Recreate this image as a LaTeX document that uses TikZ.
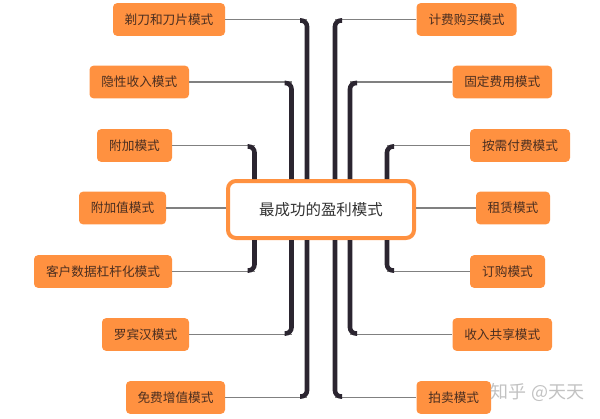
\documentclass[tikz,border=0pt]{standalone}
\usepackage{fontspec}
\setmainfont{Noto Sans CJK SC}
\usepackage{xcolor}
\usetikzlibrary{calc}
\definecolor{leaforange}{HTML}{FF9140}
\definecolor{trunkdark}{HTML}{2B2530}
\definecolor{inkdark}{HTML}{4A2E20}
\tikzset{
    leaf/.style={fill=leaforange, rounded corners=3pt, inner sep=0pt, minimum height=24.5pt, font=\fontsize{9.5pt}{11pt}\selectfont, text=inkdark},
    rootbox/.style={draw=leaforange, fill=white, line width=3pt, rounded corners=6pt, inner sep=0pt, minimum width=139.5pt, minimum height=42.75pt, font=\fontsize{11.6pt}{14pt}\selectfont, text=black!80},
    twig/.style={draw=gray, line width=1.1pt},
    trunk/.style={draw=trunkdark, line width=3.4pt, rounded corners=4.5pt}
}
\begin{document}
\begin{tikzpicture}[x=0.75pt, y=-0.75pt]
    \useasboundingbox (0,0) rectangle (600,418);

    \node[rootbox] (root) at (321,209.5) {最成功的盈利模式};

    % left side
    \foreach \id/\cx/\cy/\w/\tx/\side/\off/\txt in {
        l1/169/19.5/112/307/north/1/剃刀和刀片模式,
        l2/139.25/82/99.5/291.5/north/1/隐性收入模式,
        l3/134.5/145.5/75/254.5/north/1/附加模式,
        l5/103/271.5/138/254.5/south/-1/客户数据杠杆化模式,
        l6/145.5/334.5/87/291.5/south/-1/罗宾汉模式,
        l7/175.5/397.5/99/307/south/-1/免费增值模式} {
        \node[leaf, minimum width={\w*0.75pt}] (\id) at (\cx,\cy) {\txt};
        \coordinate (c\id) at (\tx,{\cy+\off});
        \draw[twig] (\id.east) -- (\id.east -| c\id);
        \draw[trunk] (root.\side -| c\id) -- (c\id) -- ($(c\id)+(-7,0)$);
    }

    % right side
    \foreach \id/\cx/\cy/\w/\tx/\side/\off/\txt in {
        r1/466.5/19.5/100/335/north/1/计费购买模式,
        r2/502.25/82/99.5/350/north/1/固定费用模式,
        r3/520/145.5/100/387/north/1/按需付费模式,
        r5/507.5/271.5/75/387/south/-1/订购模式,
        r6/502.25/334.5/99.5/350/south/-1/收入共享模式,
        r7/453.75/397.5/74.5/335/south/-1/拍卖模式} {
        \node[leaf, minimum width={\w*0.75pt}] (\id) at (\cx,\cy) {\txt};
        \coordinate (c\id) at (\tx,{\cy+\off});
        \draw[twig] (\id.west) -- (\id.west -| c\id);
        \draw[trunk] (root.\side -| c\id) -- (c\id) -- ($(c\id)+(7,0)$);
    }

    % the two straight ones
    \node[leaf, minimum width=65.25pt] (l4) at (122.5,208) {附加值模式};
    \node[leaf, minimum width=55.5pt] (r4) at (513,208) {租赁模式};
    \draw[twig] (l4.east) -- (l4.east -| root.west);
    \draw[twig] (r4.west) -- (r4.west -| root.east);

    \node[text=black!24, font=\fontsize{13.5pt}{16pt}\selectfont] (wmark) at (537.5,392.5) {知乎 @天天};
\end{tikzpicture}
\end{document}
